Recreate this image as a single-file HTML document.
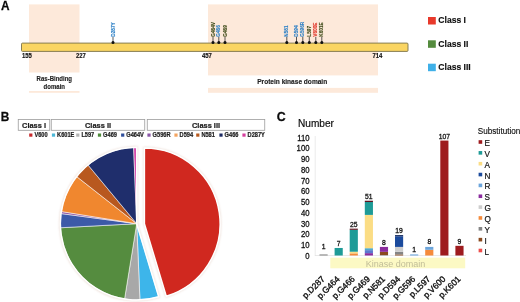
<!DOCTYPE html><html><head><meta charset="utf-8"><title>BRAF mutation classes</title>
<style>html,body{margin:0;padding:0;background:#fff}svg{display:block}text{font-family:"Liberation Sans",Arial,sans-serif}.b{font-weight:bold}</style></head><body>
<svg width="520" height="302" viewBox="0 0 520 302">
<rect width="520" height="302" fill="#fff"/>
<rect x="29" y="4.4" width="50.5" height="68.1" fill="#FDE9DA"/>
<rect x="29" y="91" width="50.5" height="1.8" fill="#FDE9DA"/>
<rect x="208" y="4.4" width="170" height="71" fill="#FDE9DA"/>
<rect x="208" y="87.9" width="170" height="4.9" fill="#FDE9DA"/>
<text class="b" transform="translate(1.0,9.9) scale(0.92,1)" font-size="12.9" fill="#0a0a0a" stroke="#0a0a0a" stroke-width="0.25">A</text>
<rect x="21.5" y="43.1" width="386.5" height="8.3" rx="1" fill="#FAD562" stroke="#807850" stroke-width="0.95"/>
<text class="b" transform="translate(22,57.6) scale(0.89,1)" font-size="6.7" fill="#111" stroke="#111" stroke-width="0.15">155</text>
<text class="b" transform="translate(76,57.6) scale(0.89,1)" font-size="6.7" fill="#111" stroke="#111" stroke-width="0.15">227</text>
<text class="b" transform="translate(202,57.6) scale(0.89,1)" font-size="6.7" fill="#111" stroke="#111" stroke-width="0.15">457</text>
<text class="b" transform="translate(372.5,57.6) scale(0.89,1)" font-size="6.7" fill="#111" stroke="#111" stroke-width="0.15">714</text>
<text class="b" transform="translate(54.3,81.2) scale(0.9,1)" font-size="6.7" fill="#222" stroke="#222" stroke-width="0.15" text-anchor="middle">Ras-Binding</text>
<text class="b" transform="translate(54.3,88.5) scale(0.9,1)" font-size="6.7" fill="#222" stroke="#222" stroke-width="0.15" text-anchor="middle">domain</text>
<text class="b" transform="translate(292.2,84.0) scale(0.98,1)" font-size="6.7" fill="#222" stroke="#222" stroke-width="0.15" text-anchor="middle">Protein kinase domain</text>
<line x1="113" y1="36.8" x2="113" y2="42" stroke="#111" stroke-width="0.7"/>
<circle cx="113" cy="42.5" r="1.5" fill="#111"/>
<text class="b" transform="translate(114.6,36.7) rotate(-90)" font-size="4.7" fill="#2E80C6" stroke="#2E80C6" stroke-width="0.12">D287Y</text>
<line x1="213" y1="36.8" x2="213" y2="42" stroke="#111" stroke-width="0.7"/>
<circle cx="213" cy="42.5" r="1.5" fill="#111"/>
<text class="b" transform="translate(214.6,36.7) rotate(-90)" font-size="4.7" fill="#414D1B" stroke="#414D1B" stroke-width="0.12">G464V</text>
<line x1="218.8" y1="36.8" x2="218.8" y2="42" stroke="#111" stroke-width="0.7"/>
<circle cx="218.8" cy="42.5" r="1.5" fill="#111"/>
<text class="b" transform="translate(220.4,36.7) rotate(-90)" font-size="4.7" fill="#2E80C6" stroke="#2E80C6" stroke-width="0.12">G466</text>
<line x1="225" y1="36.8" x2="225" y2="42" stroke="#111" stroke-width="0.7"/>
<circle cx="225" cy="42.5" r="1.5" fill="#111"/>
<text class="b" transform="translate(226.6,36.7) rotate(-90)" font-size="4.7" fill="#414D1B" stroke="#414D1B" stroke-width="0.12">G469</text>
<line x1="286.8" y1="36.8" x2="286.8" y2="42" stroke="#111" stroke-width="0.7"/>
<circle cx="286.8" cy="42.5" r="1.5" fill="#111"/>
<text class="b" transform="translate(288.40000000000003,36.7) rotate(-90)" font-size="4.7" fill="#2E80C6" stroke="#2E80C6" stroke-width="0.12">N581</text>
<line x1="296.5" y1="36.8" x2="296.5" y2="42" stroke="#111" stroke-width="0.7"/>
<circle cx="296.5" cy="42.5" r="1.5" fill="#111"/>
<text class="b" transform="translate(298.1,36.7) rotate(-90)" font-size="4.7" fill="#2E80C6" stroke="#2E80C6" stroke-width="0.12">D594</text>
<line x1="302.8" y1="36.8" x2="302.8" y2="42" stroke="#111" stroke-width="0.7"/>
<circle cx="302.8" cy="42.5" r="1.5" fill="#111"/>
<text class="b" transform="translate(304.40000000000003,36.7) rotate(-90)" font-size="4.7" fill="#2E80C6" stroke="#2E80C6" stroke-width="0.12">G596R</text>
<line x1="309.3" y1="36.8" x2="309.3" y2="42" stroke="#111" stroke-width="0.7"/>
<circle cx="309.3" cy="42.5" r="1.5" fill="#111"/>
<text class="b" transform="translate(310.90000000000003,36.7) rotate(-90)" font-size="4.7" fill="#414D1B" stroke="#414D1B" stroke-width="0.12">L597</text>
<line x1="315.8" y1="36.8" x2="315.8" y2="42" stroke="#111" stroke-width="0.7"/>
<circle cx="315.8" cy="42.5" r="1.5" fill="#111"/>
<text class="b" transform="translate(317.40000000000003,36.7) rotate(-90)" font-size="4.7" fill="#E0372B" stroke="#E0372B" stroke-width="0.12">V600E</text>
<line x1="321.8" y1="36.8" x2="321.8" y2="42" stroke="#111" stroke-width="0.7"/>
<circle cx="321.8" cy="42.5" r="1.5" fill="#111"/>
<text class="b" transform="translate(323.40000000000003,36.7) rotate(-90)" font-size="4.7" fill="#414D1B" stroke="#414D1B" stroke-width="0.12">K601E</text>
<rect x="428" y="17" width="7.8" height="7.5" fill="#E8392B"/>
<text class="b" transform="translate(438.3,23.4) scale(0.935,1)" font-size="9.2" fill="#111" stroke="#111" stroke-width="0.15">Class I</text>
<rect x="428" y="40.3" width="7.8" height="7.5" fill="#548B3E"/>
<text class="b" transform="translate(438.3,46.699999999999996) scale(0.935,1)" font-size="9.2" fill="#111" stroke="#111" stroke-width="0.15">Class II</text>
<rect x="428" y="63.7" width="7.8" height="7.5" fill="#3FB0E8"/>
<text class="b" transform="translate(438.3,70.10000000000001) scale(0.935,1)" font-size="9.2" fill="#111" stroke="#111" stroke-width="0.15">Class III</text>
<text class="b" transform="translate(0.75,120.55) scale(0.92,1)" font-size="12.9" fill="#0a0a0a" stroke="#0a0a0a" stroke-width="0.25">B</text>
<rect x="18.25" y="119.5" width="31.5" height="10.8" fill="#fff" stroke="#9c9c9c" stroke-width="0.8"/>
<text class="b" transform="translate(34.0,127.9) scale(0.92,1)" font-size="8.1" fill="#1a1a1a" stroke="#1a1a1a" stroke-width="0.2" text-anchor="middle">Class I</text>
<rect x="51.25" y="119.5" width="93.5" height="10.8" fill="#fff" stroke="#9c9c9c" stroke-width="0.8"/>
<text class="b" transform="translate(98.0,127.9) scale(0.92,1)" font-size="8.1" fill="#1a1a1a" stroke="#1a1a1a" stroke-width="0.2" text-anchor="middle">Class II</text>
<rect x="147.25" y="119.5" width="117.5" height="10.8" fill="#fff" stroke="#9c9c9c" stroke-width="0.8"/>
<text class="b" transform="translate(206.0,127.9) scale(0.92,1)" font-size="8.1" fill="#1a1a1a" stroke="#1a1a1a" stroke-width="0.2" text-anchor="middle">Class III</text>
<rect x="29.2" y="133.5" width="3.2" height="3.2" fill="#C8282B"/>
<text class="b" transform="translate(34.4,137.4) scale(0.87,1)" font-size="6.5" fill="#1c1c1c" stroke="#1c1c1c" stroke-width="0.22">V600</text>
<rect x="51.9" y="133.5" width="3.2" height="3.2" fill="#4DB8D8"/>
<text class="b" transform="translate(57.1,137.4) scale(0.87,1)" font-size="6.5" fill="#1c1c1c" stroke="#1c1c1c" stroke-width="0.22">K601E</text>
<rect x="76.2" y="133.5" width="3.2" height="3.2" fill="#B5B5B5"/>
<text class="b" transform="translate(81.39999999999999,137.4) scale(0.87,1)" font-size="6.5" fill="#1c1c1c" stroke="#1c1c1c" stroke-width="0.22">L597</text>
<rect x="97.9" y="133.5" width="3.2" height="3.2" fill="#4E8B3A"/>
<text class="b" transform="translate(103.1,137.4) scale(0.87,1)" font-size="6.5" fill="#1c1c1c" stroke="#1c1c1c" stroke-width="0.22">G469</text>
<rect x="121.10000000000001" y="133.5" width="3.2" height="3.2" fill="#2F4E9B"/>
<text class="b" transform="translate(126.3,137.4) scale(0.87,1)" font-size="6.5" fill="#1c1c1c" stroke="#1c1c1c" stroke-width="0.22">G464V</text>
<rect x="147.4" y="133.5" width="3.2" height="3.2" fill="#8A57A8"/>
<text class="b" transform="translate(152.6,137.4) scale(0.87,1)" font-size="6.5" fill="#1c1c1c" stroke="#1c1c1c" stroke-width="0.22">G596R</text>
<rect x="174.4" y="133.5" width="3.2" height="3.2" fill="#F4A460"/>
<text class="b" transform="translate(179.6,137.4) scale(0.87,1)" font-size="6.5" fill="#1c1c1c" stroke="#1c1c1c" stroke-width="0.22">D594</text>
<rect x="196.20000000000002" y="133.5" width="3.2" height="3.2" fill="#B85A1E"/>
<text class="b" transform="translate(201.4,137.4) scale(0.87,1)" font-size="6.5" fill="#1c1c1c" stroke="#1c1c1c" stroke-width="0.22">N581</text>
<rect x="219.4" y="133.5" width="3.2" height="3.2" fill="#1C2A63"/>
<text class="b" transform="translate(224.6,137.4) scale(0.87,1)" font-size="6.5" fill="#1c1c1c" stroke="#1c1c1c" stroke-width="0.22">G466</text>
<rect x="242.4" y="133.5" width="3.2" height="3.2" fill="#D6409F"/>
<text class="b" transform="translate(247.6,137.4) scale(0.87,1)" font-size="6.5" fill="#1c1c1c" stroke="#1c1c1c" stroke-width="0.22">D287Y</text>
<defs><filter id="gl" x="-10%" y="-10%" width="120%" height="120%"><feGaussianBlur stdDeviation="1.2"/></filter></defs>
<g filter="url(#gl)" opacity="0.35">
<path d="M144.40,223.70 L144.40,148.00 A75.7,75.7 0 0 1 166.25,296.18 Z" fill="#c9a08a" stroke="#c9a08a" stroke-width="2"/>
<path d="M136.70,223.70 L158.74,296.80 A76.35,76.35 0 0 1 139.95,299.98 Z" fill="#c9a08a" stroke="#c9a08a" stroke-width="2"/>
<path d="M136.70,223.70 L139.95,299.98 A76.35,76.35 0 0 1 124.56,299.08 Z" fill="#c9a08a" stroke="#c9a08a" stroke-width="2"/>
<path d="M136.70,223.70 L124.56,299.08 A76.35,76.35 0 0 1 60.46,227.76 Z" fill="#c9a08a" stroke="#c9a08a" stroke-width="2"/>
<path d="M136.70,223.70 L60.46,227.76 A76.35,76.35 0 0 1 61.03,213.57 Z" fill="#c9a08a" stroke="#c9a08a" stroke-width="2"/>
<path d="M136.70,223.70 L61.03,213.57 A76.35,76.35 0 0 1 61.32,211.56 Z" fill="#c9a08a" stroke="#c9a08a" stroke-width="2"/>
<path d="M136.70,223.70 L61.32,211.56 A76.35,76.35 0 0 1 76.65,176.55 Z" fill="#c9a08a" stroke="#c9a08a" stroke-width="2"/>
<path d="M136.70,223.70 L76.65,176.55 A76.35,76.35 0 0 1 87.97,164.92 Z" fill="#c9a08a" stroke="#c9a08a" stroke-width="2"/>
<path d="M136.70,223.70 L87.97,164.92 A76.35,76.35 0 0 1 133.65,147.41 Z" fill="#c9a08a" stroke="#c9a08a" stroke-width="2"/>
<path d="M136.70,223.70 L133.65,147.41 A76.35,76.35 0 0 1 136.70,147.35 Z" fill="#c9a08a" stroke="#c9a08a" stroke-width="2"/>
</g>
<path d="M136.70,223.70 L158.74,296.80 A76.35,76.35 0 0 1 139.95,299.98 Z" fill="#3DB5EA" stroke="#fff" stroke-opacity="0.85" stroke-width="0.65" stroke-linejoin="round"/>
<path d="M136.70,223.70 L139.95,299.98 A76.35,76.35 0 0 1 124.56,299.08 Z" fill="#A8A8A8" stroke="#fff" stroke-opacity="0.85" stroke-width="0.65" stroke-linejoin="round"/>
<path d="M136.70,223.70 L124.56,299.08 A76.35,76.35 0 0 1 60.46,227.76 Z" fill="#558C3F" stroke="#fff" stroke-opacity="0.85" stroke-width="0.65" stroke-linejoin="round"/>
<path d="M136.70,223.70 L60.46,227.76 A76.35,76.35 0 0 1 61.03,213.57 Z" fill="#3C5AA8" stroke="#fff" stroke-opacity="0.85" stroke-width="0.65" stroke-linejoin="round"/>
<path d="M136.70,223.70 L61.03,213.57 A76.35,76.35 0 0 1 61.32,211.56 Z" fill="#8A4FA0" stroke="#fff" stroke-opacity="0.85" stroke-width="0.65" stroke-linejoin="round"/>
<path d="M136.70,223.70 L61.32,211.56 A76.35,76.35 0 0 1 76.65,176.55 Z" fill="#F0872F" stroke="#fff" stroke-opacity="0.85" stroke-width="0.65" stroke-linejoin="round"/>
<path d="M136.70,223.70 L76.65,176.55 A76.35,76.35 0 0 1 87.97,164.92 Z" fill="#B8581F" stroke="#fff" stroke-opacity="0.85" stroke-width="0.65" stroke-linejoin="round"/>
<path d="M136.70,223.70 L87.97,164.92 A76.35,76.35 0 0 1 133.65,147.41 Z" fill="#1F2E6C" stroke="#fff" stroke-opacity="0.85" stroke-width="0.65" stroke-linejoin="round"/>
<path d="M136.70,223.70 L133.65,147.41 A76.35,76.35 0 0 1 136.70,147.35 Z" fill="#D13FA6" stroke="#fff" stroke-opacity="0.85" stroke-width="0.65" stroke-linejoin="round"/>
<path d="M136.7,223.7 L158.74,296.80 A76.35,76.35 0 1 1 136.69,147.35 Z" fill="none" stroke="#fff" stroke-width="1.5" stroke-linejoin="round"/>
<path d="M144.40,223.70 L144.40,148.00 A75.7,75.7 0 0 1 166.25,296.18 Z" fill="#D0281F" stroke="#fff" stroke-width="1.5" stroke-linejoin="round"/>
<text class="b" transform="translate(276.8,120.5) scale(0.92,1)" font-size="13.5" fill="#0a0a0a" stroke="#0a0a0a" stroke-width="0.25">C</text>
<text x="298" y="127" font-size="10.1" fill="#111" stroke="#111" stroke-width="0.2">Number</text>
<line x1="315.2" y1="136" x2="315.2" y2="255.5" stroke="#e2e2e2" stroke-width="0.7"/>
<line x1="314.8" y1="255.5" x2="466" y2="255.5" stroke="#d9d9d9" stroke-width="0.6"/>
<text transform="translate(309.5,258.80) scale(0.9,1)" font-size="8.6" fill="#111" stroke="#111" stroke-width="0.28" text-anchor="end">0</text>
<text transform="translate(309.5,248.06) scale(0.9,1)" font-size="8.6" fill="#111" stroke="#111" stroke-width="0.28" text-anchor="end">10</text>
<text transform="translate(309.5,237.32) scale(0.9,1)" font-size="8.6" fill="#111" stroke="#111" stroke-width="0.28" text-anchor="end">20</text>
<text transform="translate(309.5,226.58) scale(0.9,1)" font-size="8.6" fill="#111" stroke="#111" stroke-width="0.28" text-anchor="end">30</text>
<text transform="translate(309.5,215.84) scale(0.9,1)" font-size="8.6" fill="#111" stroke="#111" stroke-width="0.28" text-anchor="end">40</text>
<text transform="translate(309.5,205.10) scale(0.9,1)" font-size="8.6" fill="#111" stroke="#111" stroke-width="0.28" text-anchor="end">50</text>
<text transform="translate(309.5,194.36) scale(0.9,1)" font-size="8.6" fill="#111" stroke="#111" stroke-width="0.28" text-anchor="end">60</text>
<text transform="translate(309.5,183.62) scale(0.9,1)" font-size="8.6" fill="#111" stroke="#111" stroke-width="0.28" text-anchor="end">70</text>
<text transform="translate(309.5,172.88) scale(0.9,1)" font-size="8.6" fill="#111" stroke="#111" stroke-width="0.28" text-anchor="end">80</text>
<text transform="translate(309.5,162.14) scale(0.9,1)" font-size="8.6" fill="#111" stroke="#111" stroke-width="0.28" text-anchor="end">90</text>
<text transform="translate(309.5,151.40) scale(0.9,1)" font-size="8.6" fill="#111" stroke="#111" stroke-width="0.28" text-anchor="end">100</text>
<text transform="translate(309.5,140.66) scale(0.9,1)" font-size="8.6" fill="#111" stroke="#111" stroke-width="0.28" text-anchor="end">110</text>
<filter id="yb" x="-5%" y="-30%" width="110%" height="160%"><feGaussianBlur stdDeviation="0.55"/></filter>
<rect x="330.3" y="257.7" width="134.9" height="10.6" fill="#FCF9C4" filter="url(#yb)"/>
<text x="395.5" y="267.0" font-size="9" fill="#C0BD98" text-anchor="middle">Kinase domain</text>
<rect x="319.5" y="254.43" width="8.15" height="1.07" fill="#858585"/>
<text x="323.575" y="249.43" font-size="6.8" fill="#111" stroke="#111" stroke-width="0.28" text-anchor="middle">1</text>
<text transform="translate(325.275,279.5) rotate(-45)" font-size="8.6" fill="#111" stroke="#111" stroke-width="0.36" text-anchor="end">p.D287</text>
<rect x="334.6" y="247.98" width="8.15" height="7.52" fill="#1E9B97"/>
<text x="338.675" y="246.48" font-size="6.8" fill="#111" stroke="#111" stroke-width="0.28" text-anchor="middle">7</text>
<text transform="translate(340.375,279.5) rotate(-45)" font-size="8.6" fill="#111" stroke="#111" stroke-width="0.36" text-anchor="end">p.G464</text>
<rect x="349.7" y="253.35" width="8.15" height="2.15" fill="#F58B3B"/>
<rect x="349.7" y="251.74" width="8.15" height="1.61" fill="#FBDD85"/>
<rect x="349.7" y="229.83" width="8.15" height="21.91" fill="#1E9B97"/>
<rect x="349.7" y="228.65" width="8.15" height="1.18" fill="#5E1420"/>
<text x="353.775" y="226.95" font-size="6.8" fill="#111" stroke="#111" stroke-width="0.28" text-anchor="middle">25</text>
<text transform="translate(355.47499999999997,279.5) rotate(-45)" font-size="8.6" fill="#111" stroke="#111" stroke-width="0.36" text-anchor="end">p.G466</text>
<rect x="364.8" y="253.14" width="8.15" height="2.36" fill="#8B2C9E"/>
<rect x="364.8" y="250.13" width="8.15" height="3.01" fill="#5C78CF"/>
<rect x="364.8" y="248.20" width="8.15" height="1.93" fill="#4FA9CF"/>
<rect x="364.8" y="214.90" width="8.15" height="33.29" fill="#FBDD85"/>
<rect x="364.8" y="202.01" width="8.15" height="12.89" fill="#1E9B97"/>
<rect x="364.8" y="200.73" width="8.15" height="1.29" fill="#5E1420"/>
<text x="368.875" y="198.93" font-size="6.8" fill="#111" stroke="#111" stroke-width="0.28" text-anchor="middle">51</text>
<text transform="translate(370.575,279.5) rotate(-45)" font-size="8.6" fill="#111" stroke="#111" stroke-width="0.36" text-anchor="end">p.G469</text>
<rect x="379.9" y="255.07" width="8.15" height="0.43" fill="#858585"/>
<rect x="379.9" y="251.85" width="8.15" height="3.22" fill="#8A4A1E"/>
<rect x="379.9" y="246.91" width="8.15" height="4.94" fill="#8B2C9E"/>
<text x="383.97499999999997" y="245.01" font-size="6.8" fill="#111" stroke="#111" stroke-width="0.28" text-anchor="middle">8</text>
<text transform="translate(385.67499999999995,279.5) rotate(-45)" font-size="8.6" fill="#111" stroke="#111" stroke-width="0.36" text-anchor="end">p.N581</text>
<rect x="395.0" y="254.43" width="8.15" height="1.07" fill="#8A4A1E"/>
<rect x="395.0" y="251.74" width="8.15" height="2.69" fill="#858585"/>
<rect x="395.0" y="246.91" width="8.15" height="4.83" fill="#CDCDCD"/>
<rect x="395.0" y="236.28" width="8.15" height="10.63" fill="#1B4A9C"/>
<rect x="395.0" y="235.09" width="8.15" height="1.18" fill="#14285E"/>
<text x="399.075" y="233.09" font-size="6.8" fill="#111" stroke="#111" stroke-width="0.28" text-anchor="middle">19</text>
<text transform="translate(400.775,279.5) rotate(-45)" font-size="8.6" fill="#111" stroke="#111" stroke-width="0.36" text-anchor="end">p.D594</text>
<rect x="410.1" y="254.43" width="8.15" height="1.07" fill="#6BA5DC"/>
<text x="414.175" y="252.23" font-size="6.8" fill="#111" stroke="#111" stroke-width="0.28" text-anchor="middle">1</text>
<text transform="translate(415.875,279.5) rotate(-45)" font-size="8.6" fill="#111" stroke="#111" stroke-width="0.36" text-anchor="end">p.G596</text>
<rect x="425.2" y="249.81" width="8.15" height="5.69" fill="#F58B3B"/>
<rect x="425.2" y="246.91" width="8.15" height="2.90" fill="#6BA5DC"/>
<text x="429.275" y="244.11" font-size="6.8" fill="#111" stroke="#111" stroke-width="0.28" text-anchor="middle">8</text>
<text transform="translate(430.97499999999997,279.5) rotate(-45)" font-size="8.6" fill="#111" stroke="#111" stroke-width="0.36" text-anchor="end">p.L597</text>
<rect x="440.3" y="140.58" width="8.15" height="114.92" fill="#9E1B1E"/>
<text x="444.375" y="138.58" font-size="6.8" fill="#111" stroke="#111" stroke-width="0.28" text-anchor="middle">107</text>
<text transform="translate(446.075,279.5) rotate(-45)" font-size="8.6" fill="#111" stroke="#111" stroke-width="0.36" text-anchor="end">p.V600</text>
<rect x="455.4" y="245.83" width="8.15" height="9.67" fill="#9E1B1E"/>
<text x="459.47499999999997" y="243.53" font-size="6.8" fill="#111" stroke="#111" stroke-width="0.28" text-anchor="middle">9</text>
<text transform="translate(461.17499999999995,279.5) rotate(-45)" font-size="8.6" fill="#111" stroke="#111" stroke-width="0.36" text-anchor="end">p.K601</text>
<text transform="translate(477.8,133.7) scale(0.925,1)" font-size="8.8" fill="#111" stroke="#111" stroke-width="0.15">Substitution</text>
<rect x="478.6" y="140.20" width="3.6" height="3.6" fill="#9E1B1E"/>
<text transform="translate(484.4,146.00) scale(0.88,1)" font-size="9.3" fill="#111" stroke="#111" stroke-width="0.22">E</text>
<rect x="478.6" y="151.05" width="3.6" height="3.6" fill="#1E9B97"/>
<text transform="translate(484.4,156.85) scale(0.88,1)" font-size="9.3" fill="#111" stroke="#111" stroke-width="0.22">V</text>
<rect x="478.6" y="161.90" width="3.6" height="3.6" fill="#FBDD85"/>
<text transform="translate(484.4,167.70) scale(0.88,1)" font-size="9.3" fill="#111" stroke="#111" stroke-width="0.22">A</text>
<rect x="478.6" y="172.75" width="3.6" height="3.6" fill="#1B4A9C"/>
<text transform="translate(484.4,178.55) scale(0.88,1)" font-size="9.3" fill="#111" stroke="#111" stroke-width="0.22">N</text>
<rect x="478.6" y="183.60" width="3.6" height="3.6" fill="#6BA5DC"/>
<text transform="translate(484.4,189.40) scale(0.88,1)" font-size="9.3" fill="#111" stroke="#111" stroke-width="0.22">R</text>
<rect x="478.6" y="194.45" width="3.6" height="3.6" fill="#8B2C9E"/>
<text transform="translate(484.4,200.25) scale(0.88,1)" font-size="9.3" fill="#111" stroke="#111" stroke-width="0.22">S</text>
<rect x="478.6" y="205.30" width="3.6" height="3.6" fill="#CDCDCD"/>
<text transform="translate(484.4,211.10) scale(0.88,1)" font-size="9.3" fill="#111" stroke="#111" stroke-width="0.22">G</text>
<rect x="478.6" y="216.15" width="3.6" height="3.6" fill="#F58B3B"/>
<text transform="translate(484.4,221.95) scale(0.88,1)" font-size="9.3" fill="#111" stroke="#111" stroke-width="0.22">Q</text>
<rect x="478.6" y="227.00" width="3.6" height="3.6" fill="#858585"/>
<text transform="translate(484.4,232.80) scale(0.88,1)" font-size="9.3" fill="#111" stroke="#111" stroke-width="0.22">Y</text>
<rect x="478.6" y="237.85" width="3.6" height="3.6" fill="#8A4A1E"/>
<text transform="translate(484.4,243.65) scale(0.88,1)" font-size="9.3" fill="#111" stroke="#111" stroke-width="0.22">I</text>
<rect x="478.6" y="248.70" width="3.6" height="3.6" fill="#EE4E4B"/>
<text transform="translate(484.4,254.50) scale(0.88,1)" font-size="9.3" fill="#111" stroke="#111" stroke-width="0.22">L</text>
</svg></body></html>
